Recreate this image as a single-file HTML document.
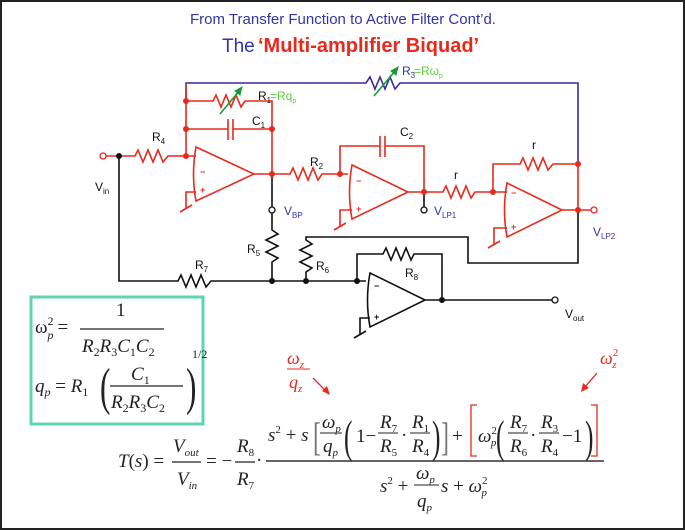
<!DOCTYPE html>
<html><head><meta charset="utf-8"><style>
html,body{margin:0;padding:0;background:#fff}
svg{display:block}
text{font-family:"Liberation Sans",sans-serif}
.r text, text.r{font-family:"Liberation Serif",serif;font-style:normal}
tspan.r{font-style:normal}
.r text.m, text.m{font-family:"Liberation Serif",serif;font-style:italic}
tspan.m{font-style:italic}
</style></head><body>
<svg width="685" height="530" viewBox="0 0 685 530" xmlns="http://www.w3.org/2000/svg">
<rect x="1" y="1" width="683" height="528" fill="#fff" stroke="#222" stroke-width="2"/>
<text x="343" y="24" text-anchor="middle" font-size="15" fill="#3333aa">From Transfer Function to Active Filter Cont’d.</text>
<text x="222" y="52" font-size="19" fill="#3333aa">The</text>
<text x="258" y="52" font-size="20" font-weight="bold" fill="#e8291c">‘Multi-amplifier Biquad’</text>

<g fill="none" stroke-width="1.6">
<polyline stroke="#3a2a9a" points="186,101 186,83 366,83 370,77 375,89 380,77 385,89 390,77 395,89 400,83 578,83 578,164"/>
<g stroke="#e8291c">
<polyline points="186,83 186,156"/>
<polyline points="186,101 213,101 216,95 221,107 226,95 231,107 236,95 241,107 245,101 272,101 272,174"/>
<line x1="186" y1="129" x2="228" y2="129"/><line x1="233" y1="129" x2="272" y2="129"/>
<line x1="228" y1="119" x2="228" y2="140"/><line x1="233" y1="119" x2="233" y2="140"/>
<polyline points="106,156 135,156 138,150 143,162 148,150 153,162 158,150 163,162 168,156 196,156"/>
<path d="M196,147 L254,174 L196,201 Q191,174 196,147Z"/>
<polyline points="196,192 186,192 186,208"/><line x1="180" y1="212" x2="192" y2="205"/>
<polyline points="254,174 290,174 293,168 298,180 303,168 308,180 313,168 318,180 322,174 348,174"/>
<path d="M352,165 L408,192 L352,219 Q347,192 352,165Z"/>
<polyline points="340,174 340,146 380,146"/><polyline points="385,146 424,146 424,192"/>
<line x1="380" y1="136" x2="380" y2="157"/><line x1="385" y1="136" x2="385" y2="157"/>
<polyline points="352,210 340,210 340,226"/><line x1="334" y1="230" x2="346" y2="223"/>
<polyline points="408,192 443,192 446,186 451,198 456,186 461,198 466,186 471,198 475,192 507,192"/>
<path d="M507,183 L562,210 L507,237 Q502,210 507,183Z"/>
<polyline points="493,192 493,164 520,164 523,158 528,170 533,158 538,170 543,158 548,170 553,164 578,164 578,210"/>
<polyline points="562,210 591,210"/>
<polyline points="507,228 494,228 494,244"/><line x1="488" y1="248" x2="500" y2="241"/>
</g>
<line x1="220" y1="114" x2="240" y2="90" stroke="#1a9a3a"/>
<polygon points="242,87 235,91 240,95" fill="#1a9a3a" stroke="#1a9a3a" stroke-width="1"/>
<line x1="374" y1="96" x2="396" y2="70" stroke="#1a9a3a"/>
<polygon points="398,67 391,71 396,75" fill="#1a9a3a" stroke="#1a9a3a" stroke-width="1"/>
<g stroke="#111">
<line x1="424" y1="192" x2="424" y2="207"/>
<line x1="272" y1="174" x2="272" y2="207"/>
<polyline points="272,213 272,230 278,234 266,240 278,246 266,252 278,258 272,262 272,281"/>
<polyline points="119,156 119,281 178,281 181,275 186,287 191,275 196,287 201,275 206,287 211,281 366,281"/>
<polyline points="578,210 578,263 468,263 468,237 306,237 306,240 312,244 300,250 312,256 300,262 312,268 306,272 306,281"/>
<polyline points="357,281 357,254 383,254 386,248 391,260 396,248 401,260 406,248 411,260 414,254 442,254 442,300"/>
<path d="M370,273 L425,300 L370,327 Q365,300 370,273Z"/>
<polyline points="425,300 552,300"/>
<polyline points="370,318 360,318 360,334"/><line x1="354" y1="338" x2="366" y2="331"/>
</g>
</g>
<g fill="#e8291c">
<circle cx="186" cy="101" r="3"/>
<circle cx="186" cy="129" r="3"/><circle cx="272" cy="129" r="3"/><circle cx="186" cy="156" r="3"/>
<circle cx="272" cy="174" r="3"/><circle cx="340" cy="174" r="3"/><circle cx="424" cy="192" r="3"/>
<circle cx="493" cy="192" r="3"/><circle cx="578" cy="164" r="3"/><circle cx="578" cy="210" r="3"/>
</g>
<g fill="#111"><circle cx="119" cy="156" r="3"/><circle cx="272" cy="281" r="3"/><circle cx="306" cy="281" r="3"/><circle cx="357" cy="281" r="3"/><circle cx="442" cy="300" r="3"/></g>
<g fill="#fff" stroke-width="1.3">
<circle cx="103" cy="156" r="3" stroke="#e8291c"/><circle cx="594" cy="210" r="3" stroke="#e8291c"/>
<circle cx="272" cy="210" r="3" stroke="#111"/><circle cx="424" cy="210" r="3" stroke="#111"/><circle cx="555" cy="300" r="3" stroke="#111"/>
</g>
<g font-size="9" fill="#e8291c" font-weight="bold">
<text x="200" y="175">−</text><text x="200" y="193">+</text>
<text x="356" y="184">−</text><text x="356" y="212">+</text>
<text x="511" y="196">−</text><text x="511" y="230">+</text>
</g>
<g font-size="9" fill="#111" font-weight="bold"><text x="374" y="289">−</text><text x="374" y="320">+</text></g>
<g font-size="12" fill="#111">
<text x="152" y="141">R<tspan font-size="8" dy="3">4</tspan></text>
<text x="252" y="125">C<tspan font-size="8" dy="3">1</tspan></text>
<text x="258" y="100">R<tspan font-size="8" dy="3">1</tspan></text>
<text x="400" y="136">C<tspan font-size="8" dy="3">2</tspan></text>
<text x="310" y="166">R<tspan font-size="8" dy="3">2</tspan></text>
<text x="454" y="179">r</text><text x="532" y="149">r</text>
<text x="95" y="191">V<tspan font-size="8" dy="3">in</tspan></text>
<text x="247" y="253">R<tspan font-size="8" dy="3">5</tspan></text>
<text x="316" y="270">R<tspan font-size="8" dy="3">6</tspan></text>
<text x="195" y="269">R<tspan font-size="8" dy="3">7</tspan></text>
<text x="405" y="277">R<tspan font-size="8" dy="3">8</tspan></text>
<text x="565" y="318">V<tspan font-size="8" dy="3">out</tspan></text>
</g>
<g font-size="12" fill="#3333aa">
<text x="284" y="215">V<tspan font-size="8" dy="3">BP</tspan></text>
<text x="434" y="215">V<tspan font-size="8" dy="3">LP1</tspan></text>
<text x="593" y="236">V<tspan font-size="8" dy="3">LP2</tspan></text>
<text x="402" y="75">R<tspan font-size="8" dy="3">3</tspan></text>
</g>
<g font-size="12" fill="#5fcf3f">
<text x="270" y="100">=Rq<tspan font-size="7" dy="3">p</tspan></text>
<text x="414" y="75">=Rω<tspan font-size="7" dy="3">p</tspan></text>
</g>
<rect x="31" y="297" width="172" height="127" fill="none" stroke="#5fd4b0" stroke-width="3"/>
<g class="r" font-size="19" fill="#222">
<text x="35" y="333">ω<tspan font-size="12" dy="-8">2</tspan><tspan font-size="12" class="m" dx="-6" dy="14">p</tspan><tspan dy="-6" dx="4">=</tspan></text>
<text x="116" y="316">1</text>
<line x1="80" y1="329" x2="164" y2="329" stroke="#222" stroke-width="1.2"/>
<text x="82" y="352" class="m">R<tspan font-size="12" dy="4" class="r">2</tspan><tspan dy="-4">R</tspan><tspan font-size="12" dy="4" class="r">3</tspan><tspan dy="-4">C</tspan><tspan font-size="12" dy="4" class="r">1</tspan><tspan dy="-4">C</tspan><tspan font-size="12" dy="4" class="r">2</tspan></text>
<text x="35" y="392" class="m">q<tspan font-size="12" dy="4">p</tspan><tspan class="r" dy="-4"> = </tspan>R<tspan font-size="12" dy="4" class="r">1</tspan></text>
<text x="100" y="404" font-size="52" transform="translate(100 0) scale(0.6 1) translate(-100 0)">(</text>
<text x="186" y="404" font-size="52" transform="translate(186 0) scale(0.6 1) translate(-186 0)">)</text>
<text x="192" y="358" font-size="12">1/2</text>
<text x="131" y="380" class="m">C<tspan font-size="12" dy="4" class="r">1</tspan></text>
<line x1="110" y1="386" x2="183" y2="386" stroke="#222" stroke-width="1.2"/>
<text x="111" y="408" class="m">R<tspan font-size="12" dy="4" class="r">2</tspan><tspan dy="-4">R</tspan><tspan font-size="12" dy="4" class="r">3</tspan><tspan dy="-4">C</tspan><tspan font-size="12" dy="4" class="r">2</tspan></text>
</g>
<g fill="#e8291c" font-size="18">
<text x="287" y="364" class="m">ω<tspan font-size="11" dy="4">z</tspan></text>
<line x1="287" y1="369" x2="310" y2="369" stroke="#e8291c"/>
<text x="289" y="388" class="m">q<tspan font-size="11" dy="4">z</tspan></text>
<text x="600" y="364" class="m">ω<tspan font-size="11" dy="-8" class="r">2</tspan><tspan font-size="11" dx="-6" dy="12">z</tspan></text>
</g>
<line x1="313" y1="378" x2="326" y2="391" stroke="#e8291c" stroke-width="1.3"/>
<polygon points="330,395 322,391 327,386" fill="#e8291c"/>
<line x1="597" y1="373" x2="585" y2="387" stroke="#e8291c" stroke-width="1.3"/>
<polygon points="581,392 583,383 589,388" fill="#e8291c"/>
<g class="r" font-size="19" fill="#222">
<text x="118" y="467" class="m">T<tspan class="r">(</tspan>s<tspan class="r">) =</tspan></text>
<text x="173" y="452" class="m">V<tspan font-size="11" dy="4">out</tspan></text>
<line x1="172" y1="462" x2="201" y2="462" stroke="#222" stroke-width="1.2"/>
<text x="177" y="485" class="m">V<tspan font-size="11" dy="4">in</tspan></text>
<text x="206" y="467">= −</text>
<text x="237" y="452" class="m">R<tspan font-size="11" dy="4" class="r">8</tspan></text>
<line x1="235" y1="462" x2="255" y2="462" stroke="#222" stroke-width="1.2"/>
<text x="237" y="485" class="m">R<tspan font-size="11" dy="4" class="r">7</tspan></text>
<text x="256" y="466">·</text>
<line x1="266" y1="461" x2="604" y2="461" stroke="#333" stroke-width="1.5"/>
<text x="268" y="441" class="m">s<tspan font-size="11" dy="-8" class="r">2</tspan><tspan dy="8" class="r"> + </tspan>s</text>
<text x="313" y="450" font-size="40" fill="#777" transform="translate(313 0) scale(0.6 1) translate(-313 0)">[</text>
<text x="322" y="428" class="m">ω<tspan font-size="11" dy="4">p</tspan></text>
<line x1="320" y1="433" x2="342" y2="433" stroke="#222" stroke-width="1.1"/>
<text x="323" y="452" class="m">q<tspan font-size="11" dy="4">p</tspan></text>
<text x="344" y="452" font-size="46" transform="translate(344 0) scale(0.55 1) translate(-344 0)">(</text>
<text x="356" y="442">1−</text>
<text x="380" y="428" class="m">R<tspan font-size="11" dy="4" class="r">7</tspan></text>
<line x1="378" y1="433" x2="398" y2="433" stroke="#222" stroke-width="1.1"/>
<text x="380" y="452" class="m">R<tspan font-size="11" dy="4" class="r">5</tspan></text>
<text x="401" y="441">·</text>
<text x="412" y="428" class="m">R<tspan font-size="11" dy="4" class="r">1</tspan></text>
<line x1="410" y1="433" x2="430" y2="433" stroke="#222" stroke-width="1.1"/>
<text x="412" y="452" class="m">R<tspan font-size="11" dy="4" class="r">4</tspan></text>
<text x="432" y="452" font-size="46" transform="translate(432 0) scale(0.55 1) translate(-432 0)">)</text>
<text x="441" y="450" font-size="40" fill="#777" transform="translate(441 0) scale(0.6 1) translate(-441 0)">]</text>
<text x="452" y="442">+</text>
<text x="478" y="442" class="m">ω<tspan font-size="11" dy="-8" class="r">2</tspan><tspan font-size="11" dx="-6" dy="12">p</tspan></text>
<text x="496" y="452" font-size="46" transform="translate(496 0) scale(0.55 1) translate(-496 0)">(</text>
<text x="510" y="428" class="m">R<tspan font-size="11" dy="4" class="r">7</tspan></text>
<line x1="508" y1="433" x2="528" y2="433" stroke="#222" stroke-width="1.1"/>
<text x="510" y="452" class="m">R<tspan font-size="11" dy="4" class="r">6</tspan></text>
<text x="530" y="441">·</text>
<text x="541" y="428" class="m">R<tspan font-size="11" dy="4" class="r">3</tspan></text>
<line x1="539" y1="433" x2="559" y2="433" stroke="#222" stroke-width="1.1"/>
<text x="541" y="452" class="m">R<tspan font-size="11" dy="4" class="r">4</tspan></text>
<text x="562" y="442">−1</text>
<text x="585" y="452" font-size="46" transform="translate(585 0) scale(0.55 1) translate(-585 0)">)</text>
<text x="380" y="492" class="m">s<tspan font-size="11" dy="-8" class="r">2</tspan><tspan dy="8" class="r"> +</tspan></text>
<text x="416" y="479" class="m">ω<tspan font-size="11" dy="4">p</tspan></text>
<line x1="414" y1="485" x2="439" y2="485" stroke="#222" stroke-width="1.1"/>
<text x="417" y="507" class="m">q<tspan font-size="11" dy="4">p</tspan></text>
<text x="441" y="492" class="m">s<tspan class="r"> + </tspan>ω<tspan font-size="11" dy="-8" class="r">2</tspan><tspan font-size="11" dx="-6" dy="12">p</tspan></text>
</g>
<polyline points="477,405 471,405 471,456 477,456" fill="none" stroke="#e8291c" stroke-width="1.3"/>
<polyline points="591,405 597,405 597,456 591,456" fill="none" stroke="#e8291c" stroke-width="1.3"/>
</svg>
</body></html>
